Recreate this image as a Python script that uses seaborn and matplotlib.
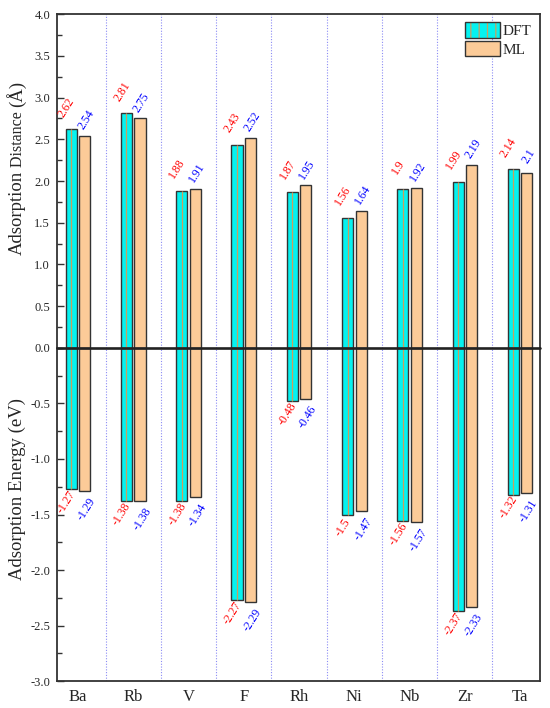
import numpy as np
import pandas as pd
import matplotlib
matplotlib.use("Agg")
import matplotlib.pyplot as plt
import matplotlib.patches as mpatches
from matplotlib.ticker import MultipleLocator, FormatStrFormatter
from matplotlib.colors import to_rgba
import seaborn as sns

# ---------------- data ----------------
elements = ["Ba", "Rb", "V", "F", "Rh", "Ni", "Nb", "Zr", "Ta"]
dft_distance = [2.62, 2.81, 1.88, 2.43, 1.87, 1.56, 1.90, 1.99, 2.14]
ml_distance = [2.54, 2.75, 1.91, 2.52, 1.95, 1.64, 1.92, 2.19, 2.10]
dft_energy = [-1.27, -1.38, -1.38, -2.27, -0.48, -1.50, -1.56, -2.37, -1.32]
ml_energy = [-1.29, -1.38, -1.34, -2.29, -0.46, -1.47, -1.57, -2.33, -1.31]
methods = ["DFT", "ML"]
dist_ticks = [0.0, 0.5, 1.0, 1.5, 2.0, 2.5, 3.0, 3.5, 4.0]
energy_ticks = [-3.0, -2.5, -2.0, -1.5, -1.0, -0.5]

# ---------------- style ----------------
sns.set_theme(style="ticks")
plt.rcParams["font.family"] = ["Liberation Serif", "DejaVu Serif"]
plt.rcParams["axes.unicode_minus"] = False
plt.rcParams["hatch.linewidth"] = 0.9

CYAN = "#05F2F0"
PEACH = "#FCCB98"
HATCH = "#C9A060"
EDGE = "#333333"
GRID = "#8C8CF5"


def set_hatch_color(patch, color):
    if hasattr(patch, "set_hatchcolor"):
        patch.set_hatchcolor(color)
    else:
        patch._hatch_color = to_rgba(color)


fig = plt.figure(figsize=(5.5, 7.08), dpi=100)
ax_top = fig.add_axes([0.1036, 0.5085, 0.8782, 0.4717])
ax_bot = fig.add_axes([0.1036, 0.0381, 0.8782, 0.4704])
ax_bot.patch.set_visible(False)

df_top = pd.DataFrame({
    "Element": elements * 2,
    "Method": [methods[0]] * len(elements) + [methods[1]] * len(elements),
    "Value": dft_distance + ml_distance,
})
df_bot = pd.DataFrame({
    "Element": elements * 2,
    "Method": [methods[0]] * len(elements) + [methods[1]] * len(elements),
    "Value": dft_energy + ml_energy,
})

for ax, df, dft_vals in ((ax_top, df_top, dft_distance), (ax_bot, df_bot, dft_energy)):
    sns.barplot(data=df, x="Element", y="Value", hue="Method",
                palette=[CYAN, PEACH], saturation=1, width=0.49, gap=0.18,
                edgecolor=EDGE, linewidth=1.0, ax=ax, legend=False,
                errorbar=None, zorder=3)
    # centre pattern line inside each DFT bar
    centers = [p.get_x() + p.get_width() / 2 for p in ax.containers[0]]
    ax.vlines(centers, 0, dft_vals, color=HATCH, lw=0.9, zorder=3.5)
    for i in range(len(elements) - 1):
        ax.axvline(i + 0.5, color=GRID, lw=0.8, ls=(0, (1, 1.5)), zorder=1)
    ax.set_xlim(-0.38, 8.36)
    ax.set_xlabel("")
    ax.set_ylabel("")
    for s in ax.spines.values():
        s.set_color(EDGE)
        s.set_linewidth(1.3)
    ax.yaxis.set_minor_locator(MultipleLocator(0.25))
    ax.yaxis.set_major_formatter(FormatStrFormatter("%.1f"))
    ax.tick_params(axis="y", which="major", direction="in", length=5,
                   width=1.0, color=EDGE, labelsize=9, pad=5, right=False)
    ax.tick_params(axis="y", which="minor", direction="in", length=3.5,
                   width=1.0, color=EDGE, right=False)

# top axis
ax_top.set_ylim(0, 4)
ax_top.set_yticks(dist_ticks)
ax_top.spines["bottom"].set_visible(False)
ax_top.tick_params(axis="x", length=0, labelbottom=False)

# bottom axis
ax_bot.set_ylim(-3, 0)
ax_bot.set_yticks(energy_ticks)
ax_bot.spines["top"].set_visible(False)
ax_bot.tick_params(axis="x", length=0, labelsize=12, pad=6)

ax_bot.axhline(0, color="#222222", lw=1.9, zorder=5, clip_on=False)

# value labels
px = 0.72  # px -> points at 100 dpi
label_specs = [
    (ax_top, 0, dft_distance, "red", (-4.5, 22)),
    (ax_top, 1, ml_distance, "blue", (1.5, 16)),
    (ax_bot, 0, dft_energy, "red", (-4.5, -13)),
    (ax_bot, 1, ml_energy, "blue", (2.0, -18)),
]
for ax, ci, vals, col, (dx, dy) in label_specs:
    for p, v in zip(ax.containers[ci], vals):
        xc = p.get_x() + p.get_width() / 2
        ax.annotate(f"{v:g}", xy=(xc, v), xytext=(dx * px, dy * px),
                    textcoords="offset points", ha="center", va="center",
                    rotation=58, rotation_mode="anchor", color=col,
                    fontsize=8.5, annotation_clip=False, zorder=6)

# legend
h_dft = mpatches.Patch(facecolor=CYAN, edgecolor=EDGE, linewidth=1.0, hatch="||")
set_hatch_color(h_dft, HATCH)
h_ml = mpatches.Patch(facecolor=PEACH, edgecolor=EDGE, linewidth=1.0)
leg = ax_top.legend(handles=[h_dft, h_ml], labels=methods, loc="upper right",
                    frameon=False, fontsize=11, handlelength=2.3,
                    handleheight=1.15, labelspacing=0.18, handletextpad=0.2,
                    borderpad=0.2, borderaxespad=0.35)
for lp in leg.get_patches():
    if lp.get_hatch():
        lp.set_edgecolor(EDGE)
        set_hatch_color(lp, HATCH)

# y labels
t1 = fig.text(26 / 550, 1 - 255 / 708, "Adsorption", rotation=90,
              fontsize=13.5, ha="right", va="bottom")
t2 = ax_top.annotate(" Distance ", xy=(1, 1), xycoords=t1, rotation=90,
                     fontsize=11.5, ha="right", va="bottom",
                     annotation_clip=False)
t3 = ax_top.annotate("(Å)", xy=(1, 1), xycoords=t2, rotation=90,
                     fontsize=13.5, ha="right", va="bottom",
                     annotation_clip=False)
fig.text(26 / 550, 1 - 489 / 708, "Adsorption Energy (eV)", rotation=90,
         fontsize=13.5, ha="right", va="center")

fig.savefig("out.png", dpi=100)
